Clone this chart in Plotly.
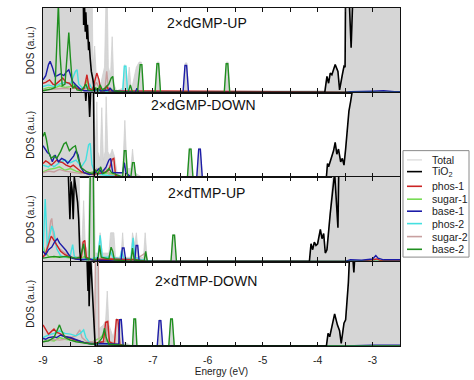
import plotly.graph_objects as go
from plotly.subplots import make_subplots

# ---------------- labels ----------------
panel_titles = ["2×dGMP-UP", "2×dGMP-DOWN", "2×dTMP-UP", "2×dTMP-DOWN"]
series_names = ["Total", "TiO<sub>2</sub>", "phos-1", "sugar-1", "base-1", "phos-2", "sugar-2", "base-2"]
series_colors = ["#d6d6d6", "#000000", "#cc2424", "#78dc55", "#1c1ca8", "#44e0e0", "#c8a0a0", "#1f8f1f"]
x_tick_values = [-9, -8, -7, -6, -5, -4, -3]
x_tick_labels = ["-9", "-8", "-7", "-6", "-5", "-4", "-3"]
x_range = [-9, -2.5]

# ---------------- panel 1 : 2xdGMP-UP ----------------
gmp_up_total = [(-9, 1.5), (-8.11, 1.5), (-8.09, 0.3), (-8.06, 0.55), (-8.03, 0.2), (-7.99, 0.15), (-7.95, 0.1),
                (-7.88, 0.3), (-7.84, 1.5), (-7.81, 0.3), (-7.77, 0.2), (-7.74, 0.66), (-7.71, 0.1), (-7.66, 0.02),
                (-7.55, 0.05), (-7.51, 0.33), (-7.47, 0.05), (-7.43, 0.3), (-7.39, 0.03), (-7.3, 0.3), (-7.25, 0.36),
                (-7.21, 0.36), (-7.17, 0.02), (-6.96, 0.02), (-6.92, 0.36), (-6.89, 0.36), (-6.86, 0.02),
                (-6.45, 0.02), (-6.41, 0.35), (-6.38, 0.35), (-6.35, 0.02), (-5.70, 0.02), (-5.66, 0.36),
                (-5.63, 0.36), (-5.60, 0.02), (-3.87, 0.02), (-3.83, 0.19), (-3.80, 0.11), (-3.77, 0.23),
                (-3.74, 0.21), (-3.68, 0.33), (-3.63, 0.25), (-3.60, 0.05), (-3.55, 0.21), (-3.52, 0.31),
                (-3.50, 0.4), (-3.49, 1.5), (-2.5, 1.5)]
gmp_up_tio2 = [(-9, 2), (-8.30, 2), (-8.27, 1.3), (-8.26, 0.8), (-8.245, 1.05), (-8.23, 0.72), (-8.22, 0.95),
               (-8.20, 0.63), (-8.19, 0.8), (-8.17, 0.5), (-8.16, 0.6), (-8.14, 0.4), (-8.12, 0.25), (-8.09, 0.15),
               (-8.06, 0.0), (-3.87, 0.0), (-3.83, 0.19), (-3.80, 0.11), (-3.77, 0.23), (-3.74, 0.21), (-3.68, 0.33),
               (-3.63, 0.25), (-3.60, 0.03), (-3.55, 0.21), (-3.52, 0.31), (-3.50, 0.3), (-3.49, 1.3), (-3.45, 1.3),
               (-3.42, 1.02), (-3.39, 0.53), (-3.36, 1.02), (-3.35, 1.3), (-2.5, 1.3)]
gmp_up_phos1 = [(-9, 0.11), (-8.95, 0.12), (-8.88, 0.15), (-8.82, 0.1), (-8.78, 0.09), (-8.70, 0.14), (-8.64, 0.17),
                (-8.58, 0.12), (-8.52, 0.11), (-8.46, 0.06), (-8.38, 0.05), (-8.30, 0.03), (-8.25, 0.05),
                (-8.20, 0.21), (-8.16, 0.05), (-8.10, 0.03), (-8.05, 0.18), (-8.02, 0.23), (-7.98, 0.15),
                (-7.95, 0.02), (-7.88, 0.02), (-7.84, 0.08), (-7.80, 0.02), (-2.5, 0.0)]
gmp_up_sugar1 = [(-9, 0.04), (-8.9, 0.06), (-8.8, 0.05), (-8.7, 0.08), (-8.6, 0.06), (-8.5, 0.07), (-8.42, 0.1),
                 (-8.35, 0.04), (-8.25, 0.05), (-8.2, 0.15), (-8.15, 0.04), (-8.05, 0.06), (-7.95, 0.03),
                 (-7.85, 0.05), (-7.75, 0.04), (-7.65, 0.0), (-2.5, 0.0)]
gmp_up_base1 = [(-9, 0.15), (-8.95, 0.2), (-8.90, 0.33), (-8.87, 0.37), (-8.83, 0.3), (-8.78, 0.19), (-8.74, 0.2),
                (-8.68, 0.22), (-8.62, 0.2), (-8.58, 0.24), (-8.53, 0.27), (-8.49, 0.2), (-8.46, 0.13),
                (-8.40, 0.09), (-8.32, 0.04), (-8.25, 0.02), (-8.10, 0.02), (-8.0, 0.04), (-7.95, 0.02),
                (-7.80, 0.03), (-7.78, 0.05), (-7.74, 0.02), (-7.32, 0.0), (-7.29, 0.05), (-7.26, 0.0),
                (-6.45, 0.0), (-6.415, 0.32), (-6.385, 0.32), (-6.35, 0.0), (-3.5, 0.0), (-3.4, 0.01),
                (-3.0, 0.015), (-2.8, 0.02), (-2.6, 0.01), (-2.5, 0.01)]
gmp_up_phos2 = [(-9, 0.07), (-8.9, 0.09), (-8.8, 0.07), (-8.7, 0.1), (-8.6, 0.12), (-8.5, 0.1), (-8.44, 0.2),
                (-8.41, 0.25), (-8.38, 0.27), (-8.35, 0.1), (-8.28, 0.05), (-8.2, 0.06), (-8.15, 0.1),
                (-8.1, 0.03), (-8.0, 0.02), (-7.55, 0.0), (-7.52, 0.31), (-7.49, 0.31), (-7.46, 0.0), (-2.5, 0.0)]
gmp_up_sugar2 = [(-9, 0.03), (-8.8, 0.04), (-8.6, 0.05), (-8.5, 0.04), (-8.4, 0.06), (-8.3, 0.03), (-8.2, 0.05),
                 (-8.1, 0.03), (-8.03, 0.12), (-7.95, 0.03), (-7.87, 0.05), (-7.84, 0.25), (-7.81, 0.05),
                 (-7.7, 0.02), (-7.3, 0.0), (-2.5, 0.0)]
gmp_up_base2 = [(-9, 0.02), (-8.85, 0.04), (-8.78, 0.06), (-8.75, 0.5), (-8.72, 1.05), (-8.69, 0.45), (-8.65, 0.08),
                (-8.6, 0.1), (-8.56, 0.45), (-8.53, 0.71), (-8.5, 0.4), (-8.46, 0.05), (-8.42, 0.08), (-8.38, 0.03),
                (-8.3, 0.02), (-8.22, 0.1), (-8.18, 0.03), (-8.1, 0.02), (-8.05, 0.05), (-8.0, 0.02), (-7.96, 0.09),
                (-7.92, 0.03), (-7.86, 0.06), (-7.8, 0.1), (-7.76, 0.17), (-7.73, 0.19), (-7.70, 0.02),
                (-7.45, 0.0), (-7.41, 0.09), (-7.37, 0.0), (-7.28, 0.0), (-7.25, 0.2), (-7.23, 0.33),
                (-7.20, 0.33), (-7.17, 0.0), (-6.96, 0.0), (-6.925, 0.34), (-6.895, 0.34), (-6.86, 0.0),
                (-5.70, 0.0), (-5.665, 0.34), (-5.635, 0.34), (-5.60, 0.0), (-2.5, 0.0)]

# ---------------- panel 2 : 2xdGMP-DOWN ----------------
gmp_down_total = [(-9, 1.5), (-8.08, 1.5), (-8.06, 0.3), (-8.04, 0.5), (-8.02, 0.89), (-8.0, 0.3), (-7.96, 0.2),
                  (-7.93, 0.82), (-7.90, 0.2), (-7.87, 0.3), (-7.85, 0.95), (-7.82, 0.3), (-7.78, 0.25),
                  (-7.74, 0.33), (-7.70, 0.25), (-7.65, 0.05), (-7.55, 0.05), (-7.51, 0.67), (-7.47, 0.1),
                  (-7.40, 0.1), (-7.37, 0.33), (-7.33, 0.05), (-7.2, 0.0), (-6.37, 0.0), (-6.335, 0.34),
                  (-6.305, 0.34), (-6.27, 0.0), (-6.20, 0.0), (-6.165, 0.34), (-6.135, 0.34), (-6.10, 0.0),
                  (-3.84, 0.0), (-3.82, 0.16), (-3.80, 0.12), (-3.77, 0.18), (-3.74, 0.24), (-3.71, 0.31),
                  (-3.68, 0.41), (-3.65, 0.27), (-3.62, 0.33), (-3.58, 0.18), (-3.55, 0.22), (-3.52, 0.14),
                  (-3.49, 0.33), (-3.46, 0.59), (-3.43, 0.78), (-3.40, 0.89), (-3.35, 1.05), (-3.34, 1.5),
                  (-2.5, 1.5)]
gmp_down_tio2 = [(-9, 2), (-8.30, 2), (-8.24, 1.1), (-8.22, 0.9), (-8.20, 1.1), (-8.17, 1.02), (-8.15, 0.71),
                 (-8.13, 1.05), (-8.08, 1.02), (-8.065, 0.0), (-3.84, 0.0), (-3.82, 0.16), (-3.80, 0.12),
                 (-3.77, 0.18), (-3.74, 0.24), (-3.71, 0.31), (-3.68, 0.41), (-3.65, 0.27), (-3.62, 0.33),
                 (-3.58, 0.18), (-3.55, 0.22), (-3.52, 0.14), (-3.49, 0.33), (-3.46, 0.59), (-3.43, 0.78),
                 (-3.40, 0.89), (-3.35, 1.05), (-3.3, 1.3), (-2.5, 1.3)]
gmp_down_phos1 = [(-9, 0.16), (-8.95, 0.19), (-8.90, 0.17), (-8.85, 0.14), (-8.80, 0.17), (-8.75, 0.2),
                  (-8.70, 0.18), (-8.64, 0.17), (-8.58, 0.14), (-8.50, 0.12), (-8.45, 0.14), (-8.38, 0.1),
                  (-8.30, 0.06), (-8.2, 0.04), (-8.1, 0.03), (-8.0, 0.04), (-7.9, 0.05), (-7.8, 0.08),
                  (-7.74, 0.21), (-7.71, 0.22), (-7.68, 0.02), (-7.6, 0.0), (-2.5, 0.0)]
gmp_down_sugar1 = [(-9, 0.06), (-8.9, 0.09), (-8.8, 0.1), (-8.7, 0.12), (-8.6, 0.08), (-8.5, 0.1), (-8.4, 0.07),
                   (-8.3, 0.05), (-8.2, 0.04), (-8.1, 0.06), (-8.0, 0.08), (-7.9, 0.04), (-7.8, 0.05), (-7.7, 0.02),
                   (-7.6, 0.0), (-2.5, 0.0)]
gmp_down_base1 = [(-9, 0.37), (-8.96, 0.33), (-8.92, 0.29), (-8.88, 0.27), (-8.83, 0.18), (-8.78, 0.26),
                  (-8.72, 0.18), (-8.66, 0.22), (-8.6, 0.2), (-8.55, 0.16), (-8.50, 0.2), (-8.44, 0.25),
                  (-8.40, 0.31), (-8.36, 0.26), (-8.32, 0.12), (-8.25, 0.05), (-8.15, 0.03), (-8.05, 0.05),
                  (-7.98, 0.1), (-7.93, 0.05), (-7.85, 0.12), (-7.80, 0.2), (-7.77, 0.22), (-7.73, 0.05),
                  (-7.55, 0.05), (-7.52, 0.17), (-7.49, 0.05), (-7.4, 0.0), (-6.20, 0.0), (-6.165, 0.33),
                  (-6.135, 0.33), (-6.10, 0.0), (-2.5, 0.0)]
gmp_down_phos2 = [(-9, 0.14), (-8.9, 0.12), (-8.85, 0.15), (-8.8, 0.12), (-8.7, 0.17), (-8.6, 0.2), (-8.5, 0.17),
                  (-8.4, 0.2), (-8.3, 0.12), (-8.22, 0.2), (-8.17, 0.38), (-8.14, 0.40), (-8.11, 0.15),
                  (-8.05, 0.04), (-7.95, 0.03), (-7.8, 0.02), (-7.6, 0.0), (-2.5, 0.0)]
gmp_down_sugar2 = [(-9, 0.05), (-8.9, 0.07), (-8.8, 0.06), (-8.7, 0.09), (-8.6, 0.07), (-8.5, 0.06), (-8.4, 0.05),
                   (-8.3, 0.04), (-8.2, 0.06), (-8.1, 0.04), (-8.02, 0.1), (-7.95, 0.03), (-7.85, 0.1),
                   (-7.8, 0.03), (-7.6, 0.0), (-2.5, 0.0)]
gmp_down_base2 = [(-9, 0.48), (-8.97, 0.53), (-8.94, 0.45), (-8.9, 0.3), (-8.85, 0.22), (-8.8, 0.25), (-8.75, 0.22),
                  (-8.68, 0.3), (-8.62, 0.39), (-8.58, 0.41), (-8.52, 0.31), (-8.46, 0.35), (-8.41, 0.37),
                  (-8.36, 0.22), (-8.3, 0.11), (-8.2, 0.06), (-8.1, 0.04), (-8.04, 0.08), (-8.0, 0.03),
                  (-7.95, 0.12), (-7.91, 0.04), (-7.85, 0.06), (-7.8, 0.1), (-7.75, 0.05), (-7.55, 0.0),
                  (-7.52, 0.31), (-7.49, 0.31), (-7.46, 0.0), (-7.40, 0.0), (-7.37, 0.17), (-7.34, 0.17),
                  (-7.31, 0.0), (-6.37, 0.0), (-6.335, 0.33), (-6.305, 0.33), (-6.27, 0.0), (-2.5, 0.0)]

# ---------------- panel 3 : 2xdTMP-UP ----------------
tmp_up_total = [(-9, 1.5), (-8.35, 1.5), (-8.33, 0.5), (-8.31, 0.1), (-8.29, 0.25), (-8.26, 0.72), (-8.23, 0.2),
                (-8.18, 0.1), (-8.14, 1.5), (-8.08, 1.5), (-8.05, 0.1), (-7.99, 0.1), (-7.96, 0.34), (-7.92, 0.1),
                (-7.80, 0.1), (-7.77, 0.34), (-7.71, 0.34), (-7.68, 0.05), (-7.58, 0.05), (-7.55, 0.34),
                (-7.52, 0.05), (-7.40, 0.05), (-7.37, 0.34), (-7.33, 0.2), (-7.30, 0.34), (-7.26, 0.05),
                (-7.17, 0.05), (-7.14, 0.34), (-7.10, 0.0), (-6.67, 0.0), (-6.635, 0.32), (-6.605, 0.32),
                (-6.57, 0.0), (-4.15, 0.0), (-4.12, 0.21), (-4.09, 0.14), (-4.06, 0.23), (-4.03, 0.19),
                (-4.00, 0.21), (-3.95, 0.38), (-3.92, 0.27), (-3.89, 0.33), (-3.86, 0.10), (-3.83, 0.14),
                (-3.77, 0.57), (-3.71, 1.05), (-3.68, 1.5), (-2.5, 1.5)]
tmp_up_tio2 = [(-9, 2), (-8.56, 2), (-8.54, 1.05), (-8.51, 0.5), (-8.49, 0.95), (-8.47, 0.85), (-8.45, 0.5),
               (-8.43, 1.0), (-8.41, 0.9), (-8.37, 0.7), (-8.35, 0.5), (-8.33, 0.12), (-8.31, 0.0), (-4.15, 0.0),
               (-4.12, 0.21), (-4.09, 0.14), (-4.06, 0.23), (-4.03, 0.19), (-4.00, 0.21), (-3.95, 0.38),
               (-3.92, 0.27), (-3.89, 0.33), (-3.86, 0.10), (-3.83, 0.14), (-3.77, 0.57), (-3.71, 1.0),
               (-3.69, 1.05), (-3.63, 0.40), (-3.61, 1.3), (-2.5, 1.3)]
tmp_up_phos1 = [(-9, 0.05), (-8.95, 0.1), (-8.9, 0.2), (-8.85, 0.3), (-8.8, 0.25), (-8.74, 0.18), (-8.68, 0.12),
                (-8.6, 0.08), (-8.5, 0.05), (-8.4, 0.03), (-8.3, 0.05), (-8.27, 0.23), (-8.24, 0.25), (-8.21, 0.05),
                (-8.1, 0.02), (-7.8, 0.03), (-7.3, 0.02), (-7.1, 0.0), (-3.3, 0.0), (-3.0, 0.02), (-2.92, 0.03),
                (-2.85, 0.01), (-2.5, 0.01)]
tmp_up_sugar1 = [(-9, 0.19), (-8.97, 0.12), (-8.9, 0.06), (-8.8, 0.05), (-8.7, 0.06), (-8.6, 0.05), (-8.5, 0.04),
                 (-8.4, 0.05), (-8.3, 0.03), (-8.25, 0.06), (-8.2, 0.02), (-8.0, 0.03), (-7.7, 0.02), (-7.5, 0.0),
                 (-2.5, 0.0)]
tmp_up_base1 = [(-9, 0.12), (-8.95, 0.08), (-8.9, 0.14), (-8.84, 0.17), (-8.78, 0.24), (-8.74, 0.27), (-8.70, 0.22),
                (-8.64, 0.18), (-8.58, 0.13), (-8.53, 0.08), (-8.47, 0.04), (-8.40, 0.03), (-8.3, 0.02),
                (-8.2, 0.03), (-8.1, 0.02), (-7.58, 0.0), (-7.555, 0.16), (-7.525, 0.16), (-7.49, 0.0),
                (-7.33, 0.0), (-7.305, 0.19), (-7.275, 0.19), (-7.25, 0.0), (-3.5, 0.0), (-3.4, 0.02),
                (-3.2, 0.015), (-3.0, 0.03), (-2.94, 0.07), (-2.90, 0.04), (-2.8, 0.02), (-2.5, 0.02)]
tmp_up_phos2 = [(-9, 0.1), (-8.98, 0.5), (-8.96, 0.74), (-8.94, 0.45), (-8.92, 0.15), (-8.88, 0.3), (-8.84, 0.42),
                (-8.80, 0.35), (-8.75, 0.15), (-8.68, 0.07), (-8.6, 0.05), (-8.5, 0.08), (-8.46, 0.2),
                (-8.43, 0.06), (-8.35, 0.03), (-8.2, 0.02), (-8.0, 0.05), (-7.96, 0.31), (-7.92, 0.05),
                (-7.80, 0.05), (-7.77, 0.12), (-7.73, 0.05), (-7.6, 0.03), (-7.57, 0.13), (-7.53, 0.03),
                (-7.4, 0.03), (-7.36, 0.28), (-7.33, 0.05), (-7.2, 0.02), (-7.0, 0.0), (-2.5, 0.0)]
tmp_up_sugar2 = [(-9, 0.05), (-8.95, 0.1), (-8.9, 0.25), (-8.86, 0.48), (-8.84, 0.51), (-8.81, 0.3), (-8.76, 0.2),
                 (-8.7, 0.15), (-8.6, 0.1), (-8.5, 0.06), (-8.4, 0.04), (-8.3, 0.08), (-8.26, 0.2), (-8.22, 0.05),
                 (-8.1, 0.03), (-7.8, 0.04), (-7.3, 0.03), (-7.14, 0.1), (-7.1, 0.0), (-2.5, 0.0)]
tmp_up_base2 = [(-9, 0.04), (-8.9, 0.05), (-8.8, 0.06), (-8.7, 0.05), (-8.6, 0.06), (-8.5, 0.05), (-8.4, 0.04),
                (-8.32, 0.05), (-8.28, 0.18), (-8.26, 0.21), (-8.23, 0.05), (-8.16, 0.02), (-8.13, 1.5),
                (-8.09, 1.5), (-8.07, 0.02), (-8.0, 0.03), (-7.97, 0.19), (-7.94, 0.05), (-7.80, 0.03),
                (-7.76, 0.17), (-7.73, 0.12), (-7.70, 0.02), (-7.4, 0.0), (-7.37, 0.16), (-7.34, 0.02),
                (-7.16, 0.0), (-7.13, 0.12), (-7.10, 0.0), (-6.67, 0.0), (-6.635, 0.31), (-6.605, 0.31),
                (-6.57, 0.0), (-2.5, 0.0)]

# ---------------- panel 4 : 2xdTMP-DOWN ----------------
tmp_down_total = [(-9, 1.5), (-8.11, 1.5), (-8.08, 0.3), (-8.04, 0.3), (-8.03, 1.5), (-8.01, 1.5), (-7.99, 0.2),
                  (-7.90, 0.25), (-7.86, 0.3), (-7.83, 0.65), (-7.80, 0.25), (-7.72, 0.1), (-7.66, 0.33),
                  (-7.60, 0.2), (-7.58, 0.33), (-7.54, 0.05), (-7.37, 0.0), (-7.345, 0.32), (-7.315, 0.32),
                  (-7.29, 0.0), (-6.92, 0.0), (-6.885, 0.31), (-6.855, 0.31), (-6.82, 0.0), (-6.71, 0.0),
                  (-6.675, 0.32), (-6.645, 0.32), (-6.61, 0.0), (-3.84, 0.0), (-3.81, 0.15), (-3.78, 0.11),
                  (-3.74, 0.23), (-3.69, 0.38), (-3.64, 0.25), (-3.60, 0.18), (-3.57, 0.03), (-3.52, 0.27),
                  (-3.49, 0.31), (-3.46, 0.54), (-3.44, 0.75), (-3.42, 1.05), (-3.4, 1.5), (-2.5, 1.5)]
tmp_down_tio2 = [(-9, 2), (-8.22, 2), (-8.20, 1.05), (-8.18, 0.65), (-8.17, 1.05), (-8.16, 0.47), (-8.14, 1.05),
                 (-8.13, 1.02), (-8.05, 0.0), (-3.84, 0.0), (-3.81, 0.15), (-3.78, 0.11), (-3.74, 0.23),
                 (-3.69, 0.38), (-3.64, 0.25), (-3.60, 0.18), (-3.57, 0.03), (-3.52, 0.27), (-3.49, 0.31),
                 (-3.46, 0.54), (-3.44, 0.75), (-3.42, 1.05), (-3.36, 1.05), (-3.34, 0.87), (-3.33, 1.05),
                 (-3.3, 1.3), (-2.5, 1.3)]
tmp_down_phos1 = [(-9, 0.25), (-8.95, 0.2), (-8.9, 0.14), (-8.85, 0.17), (-8.8, 0.2), (-8.75, 0.16), (-8.7, 0.15),
                  (-8.62, 0.12), (-8.55, 0.1), (-8.45, 0.08), (-8.35, 0.06), (-8.25, 0.04), (-8.1, 0.03),
                  (-7.9, 0.05), (-7.86, 0.28), (-7.82, 0.29), (-7.79, 0.05), (-7.70, 0.02), (-7.665, 0.31),
                  (-7.635, 0.31), (-7.60, 0.02), (-7.5, 0.0), (-2.5, 0.0)]
tmp_down_sugar1 = [(-9, 0.05), (-8.9, 0.07), (-8.8, 0.06), (-8.7, 0.1), (-8.6, 0.08), (-8.5, 0.07), (-8.4, 0.06),
                   (-8.3, 0.05), (-8.2, 0.04), (-8.1, 0.05), (-7.95, 0.1), (-7.88, 0.15), (-7.84, 0.05),
                   (-7.7, 0.02), (-7.5, 0.0), (-2.5, 0.0)]
tmp_down_base1 = [(-9, 0.09), (-8.95, 0.08), (-8.9, 0.1), (-8.8, 0.11), (-8.75, 0.1), (-8.68, 0.13), (-8.6, 0.11),
                  (-8.5, 0.1), (-8.42, 0.08), (-8.35, 0.06), (-8.25, 0.04), (-8.1, 0.02), (-7.95, 0.03),
                  (-7.62, 0.02), (-7.605, 0.31), (-7.575, 0.31), (-7.54, 0.0), (-6.92, 0.0), (-6.885, 0.3),
                  (-6.855, 0.3), (-6.82, 0.0), (-3.5, 0.0), (-3.0, 0.01), (-2.5, 0.01)]
tmp_down_phos2 = [(-9, 0.1), (-8.9, 0.13), (-8.8, 0.15), (-8.7, 0.18), (-8.6, 0.15), (-8.5, 0.14), (-8.4, 0.12),
                  (-8.32, 0.15), (-8.26, 0.19), (-8.22, 0.1), (-8.15, 0.04), (-8.05, 0.03), (-7.9, 0.03),
                  (-7.8, 0.02), (-7.6, 0.0), (-2.5, 0.0)]
tmp_down_sugar2 = [(-9, 0.05), (-8.9, 0.06), (-8.8, 0.08), (-8.7, 0.07), (-8.6, 0.08), (-8.5, 0.1), (-8.4, 0.12),
                   (-8.33, 0.19), (-8.29, 0.1), (-8.2, 0.05), (-8.06, 0.05), (-8.04, 1.5), (-8.00, 1.5),
                   (-7.98, 0.05), (-7.86, 0.05), (-7.83, 0.3), (-7.80, 0.05), (-7.6, 0.02), (-7.5, 0.0), (-2.5, 0.0)]
tmp_down_base2 = [(-9, 0.05), (-8.9, 0.06), (-8.8, 0.1), (-8.74, 0.2), (-8.70, 0.25), (-8.66, 0.18), (-8.6, 0.1),
                  (-8.5, 0.07), (-8.4, 0.05), (-8.3, 0.04), (-8.2, 0.03), (-8.1, 0.02), (-8.0, 0.03), (-7.92, 0.1),
                  (-7.88, 0.21), (-7.85, 0.1), (-7.8, 0.02), (-7.37, 0.0), (-7.345, 0.32), (-7.315, 0.32),
                  (-7.29, 0.0), (-6.71, 0.0), (-6.675, 0.32), (-6.645, 0.32), (-6.61, 0.0), (-2.5, 0.0)]

# table built from the named lists: order = series_names
panels = [
    [gmp_up_total, gmp_up_tio2, gmp_up_phos1, gmp_up_sugar1, gmp_up_base1, gmp_up_phos2, gmp_up_sugar2, gmp_up_base2],
    [gmp_down_total, gmp_down_tio2, gmp_down_phos1, gmp_down_sugar1, gmp_down_base1, gmp_down_phos2,
     gmp_down_sugar2, gmp_down_base2],
    [tmp_up_total, tmp_up_tio2, tmp_up_phos1, tmp_up_sugar1, tmp_up_base1, tmp_up_phos2, tmp_up_sugar2, tmp_up_base2],
    [tmp_down_total, tmp_down_tio2, tmp_down_phos1, tmp_down_sugar1, tmp_down_base1, tmp_down_phos2,
     tmp_down_sugar2, tmp_down_base2],
]
draw_order = [0, 3, 6, 5, 2, 4, 7, 1]  # Total behind, TiO2 on top

FONT = "Liberation Sans, Arial, sans-serif"
fig = make_subplots(rows=4, cols=1, shared_xaxes=True, vertical_spacing=0)

for r, panel in enumerate(panels, start=1):
    for k in draw_order:
        pts = panel[k]
        xs = [p[0] for p in pts]
        ys = [p[1] for p in pts]
        if k == 0:
            fig.add_trace(go.Scatter(x=xs, y=ys, mode="lines", name=series_names[k], fill="tozeroy",
                                     fillcolor="#d6d6d6", line=dict(color="#d0d0d0", width=0.8),
                                     showlegend=False, hoverinfo="skip"), row=r, col=1)
        else:
            fig.add_trace(go.Scatter(x=xs, y=ys, mode="lines", name=series_names[k],
                                     line=dict(color=series_colors[k], width=1.6 if k == 1 else 1.4),
                                     showlegend=False), row=r, col=1)

for r in range(1, 5):
    fig.update_xaxes(row=r, col=1, range=x_range, showline=True, linecolor="#111", linewidth=1.2, mirror="ticks",
                     ticks="inside", ticklen=4, tickwidth=1, tickcolor="#111", tickvals=x_tick_values,
                     ticktext=x_tick_labels, showticklabels=(r == 4), showgrid=False, zeroline=False,
                     minor=dict(ticks="inside", ticklen=4, tickwidth=1, tickcolor="#111", dtick=0.5, tick0=-9,
                                showgrid=False),
                     tickfont=dict(size=10.5, color="#222", family=FONT))
    fig.update_yaxes(row=r, col=1, range=[0, 1], showline=True, linecolor="#111", linewidth=1.2, mirror=True,
                     ticks="", showticklabels=False, showgrid=False, zeroline=False,
                     title=dict(text="DOS (a.u.)", font=dict(size=10, color="#222", family=FONT), standoff=5))
fig.update_xaxes(row=4, col=1, ticklabelstandoff=4,
                 title=dict(text="Energy (eV)", font=dict(size=10, color="#222", family=FONT), standoff=0))

# panel titles
title_pos = [(0.460, 0.955), (0.450, 0.712), (0.457, 0.454), (0.456, 0.193)]
for (tx, ty), t in zip(title_pos, panel_titles):
    fig.add_annotation(xref="paper", yref="paper", x=tx, y=ty, text=t, showarrow=False,
                       xanchor="center", yanchor="middle", font=dict(size=14, color="#111", family=FONT))

# legend box (drawn manually to match compact layout)
fig.add_shape(type="rect", xref="paper", yref="paper", x0=1.0084, x1=1.1933, y0=0.263, y1=0.578,
              line=dict(color="#8a8a8a", width=1), fillcolor="white", layer="above")
leg_y = [0.5506, 0.5159, 0.4725, 0.4344, 0.3988, 0.3621, 0.3237, 0.2861]
leg_colors = ["#e2e2e2"] + series_colors[1:]
for name, col, yy in zip(series_names, leg_colors, leg_y):
    fig.add_shape(type="line", xref="paper", yref="paper", x0=1.0196, x1=1.0616, y0=yy, y1=yy,
                  line=dict(color=col, width=1.6), layer="above")
    fig.add_annotation(xref="paper", yref="paper", x=1.084, y=yy, text=name, showarrow=False,
                       xanchor="left", yanchor="middle", font=dict(size=10.5, color="#222", family=FONT))

fig.update_layout(width=474, height=380, margin=dict(l=43, r=74, t=7, b=27),
                  paper_bgcolor="white", plot_bgcolor="white", showlegend=False,
                  font=dict(family=FONT, color="#222"))

fig.write_html("out.html", config={"displayModeBar": False},
               post_script="document.body.style.margin='0px';document.body.style.overflow='hidden';")
